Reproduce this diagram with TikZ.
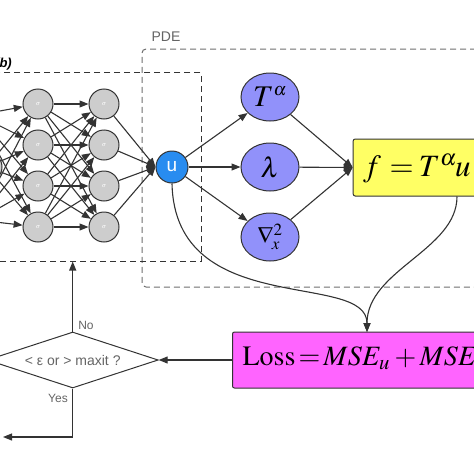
\documentclass[tikz,border=0pt]{standalone}
\usepackage{mathptmx}
\usepackage{fontspec}
\setsansfont{Liberation Sans}
\usetikzlibrary{arrows.meta,shapes.geometric}
\definecolor{edge}{RGB}{51,51,51}
\definecolor{neurongray}{RGB}{205,205,205}
\definecolor{ublue}{RGB}{40,140,240}
\definecolor{peri}{RGB}{145,145,250}
\definecolor{fyellow}{RGB}{255,255,100}
\definecolor{lossmag}{RGB}{255,100,255}
\definecolor{labelgray}{RGB}{100,100,100}
\definecolor{dashgray}{RGB}{110,110,110}
\begin{document}
\begin{tikzpicture}[x=1pt,y=-1pt,
  neuron/.style={circle, draw=edge, fill=neurongray, line width=1pt, minimum size=30pt, inner sep=0pt, text=white, font=\sffamily\fontsize{6}{6}\selectfont},
  arr/.style={draw=edge, line width=1.1pt, -{Triangle[length=9pt,width=7pt]}},
  ell/.style={ellipse, draw=edge, fill=peri, line width=1pt, minimum width=58pt, minimum height=48pt, inner sep=0pt, font=\fontsize{30}{34}\selectfont},
  eqbox/.style={rectangle, rounded corners=2pt, draw=edge, line width=1pt, anchor=west, inner xsep=10pt, inner ysep=0pt},
  netbox/.style={draw=edge, line width=1pt, dash pattern=on 6pt off 4pt},
  pdebox/.style={draw=dashgray, line width=1pt, dash pattern=on 6pt off 4pt, rounded corners=4pt},
  lbl/.style={text=labelgray, font=\sffamily\fontsize{12}{14}\selectfont, inner sep=0pt}
]
\useasboundingbox (0,0) rectangle (474,474);
\clip (0,0) rectangle (474,474);

% frames
\node[pdebox, minimum width=358pt, minimum height=238pt, inner sep=0pt] (pde) at (321,168) {};
\node[lbl, font=\sffamily\fontsize{14}{16}\selectfont] (pdelbl) at (166,37) {PDE};
\node[netbox, minimum width=211pt, minimum height=188.3pt, inner sep=0pt] (net) at (95.5,166.85) {};
\node[anchor=east, inner sep=0pt, font=\sffamily\bfseries\itshape\fontsize{13}{15}\selectfont] (blabel) at (12,64) {(b)};

% inputs
\node[neuron] (i1) at (-22,115) {};
\node[neuron] (i2) at (-13,167) {};
\node[neuron] (i3) at (-22,220) {};
% hidden layers
\foreach \r/\y in {1/104,2/145,3/186,4/227}{
  \node[neuron] (a\r) at (38,\y) {$\sigma$};
  \node[neuron] (b\r) at (104,\y) {$\sigma$};
}
\node[circle, draw=edge, fill=ublue, line width=1pt, minimum size=32pt, inner sep=0pt, text=white, font=\sffamily\fontsize{19}{20}\selectfont] (u) at (172,167) {u};

\foreach \i in {1,2,3}{\foreach \j in {1,2,3,4}{\draw[arr] (i\i) -- (a\j);}}
\foreach \i in {1,2,3,4}{\foreach \j in {1,2,3,4}{\draw[arr] (a\i) -- (b\j);}}
\foreach \i in {1,2,3,4}{\draw[arr] (b\i) -- (u.west);}

% operators
\node[ell] (T) at (270,97) {$T^{\scriptscriptstyle\alpha}$};
\node[ell, font=\fontsize{28}{32}\selectfont] (L) at (270,167) {$\lambda$};
\node[ell, font=\fontsize{23}{26}\selectfont] (N) at (270,237) {$\nabla_{\!x}^2$};
\draw[arr] (u) -- (T);
\draw[arr] (u) -- (L);
\draw[arr] (u) -- (N);

\node[eqbox, fill=fyellow, minimum height=57pt, font=\fontsize{31}{36}\selectfont] (f) at (352.7,167.5) {$f\mkern5mu{=}\mkern3mu T^{\alpha}\mkern-1mu u\mkern2mu{-}\mkern2mu\lambda\nabla_x^2 u$};
\draw[arr] (T) -- (f.west);
\draw[arr] (L) -- (f.west);
\draw[arr] (N) -- (f.west);

\node[eqbox, fill=lossmag, minimum height=56pt, font=\fontsize{28}{32}\selectfont] (loss) at (232,360) {$\mathrm{Loss}\mkern2mu{=}\mkern2mu MSE_u\mkern3mu{+}\mkern2mu MSE_f$};
\coordinate (lossin) at (367,332);
\draw[arr] (u.south) .. controls (175,320) and (367,270) .. (lossin);
\draw[arr] (f.south -| 457,0) .. controls (457,250) and (367,270) .. (lossin);

% decision
\node[diamond, aspect=3, draw=edge, line width=1pt, minimum width=171pt, minimum height=56pt, inner sep=0pt, text=labelgray, font=\sffamily\fontsize{14}{16}\selectfont] (dia) at (72.7,360) {< ε or > maxit ?};
\draw[arr] (loss.west) -- (dia.east);
\draw[arr] (dia.north) -- (dia.north |- net.south);
\node[lbl] (no) at (86,325) {No};
\node[lbl] (yes) at (58,398) {Yes};
\coordinate (bend) at (72.7,437);
\coordinate (exit) at (3,437);
\draw[arr] (dia.south) -- (bend) -- (exit);
\end{tikzpicture}
\end{document}
